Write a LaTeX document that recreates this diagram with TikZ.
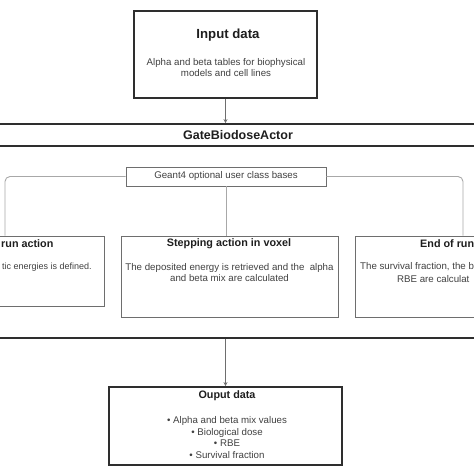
\documentclass[tikz,border=0pt]{standalone}
\usepackage{fontspec}
\setmainfont{Liberation Sans}
\usepackage{tikz}
\usetikzlibrary{shapes.geometric, arrows.meta, positioning}
\definecolor{boxdark}{HTML}{2E2E2E}
\definecolor{boxgray}{HTML}{6E6E6E}
\definecolor{linegray}{HTML}{A8A8A8}
\definecolor{titlecol}{HTML}{1E1E1E}
\definecolor{bodycol}{HTML}{404040}
\tikzstyle{mainbox} = [rectangle, draw=boxdark, line width=1.8pt, inner sep=0pt]
\tikzstyle{subbox} = [rectangle, draw=boxgray, line width=0.9pt, inner sep=0pt]
\tikzstyle{boxtitle} = [font=\bfseries\fontsize{10.8}{12}\selectfont, text=titlecol, inner sep=0pt]
\tikzstyle{boxtext} = [font=\fontsize{9.7}{11.4}\selectfont, text=bodycol, align=center, inner sep=0pt]
\tikzstyle{link} = [draw=linegray, line width=0.9pt, rounded corners=5pt]
\tikzstyle{arrow} = [draw=boxgray, line width=0.7pt, -{Stealth[length=4pt,width=4pt]}]

\begin{document}
\begin{tikzpicture}[x=1pt, y=-1pt]
\useasboundingbox (0,0) rectangle (474,474);
\clip (0,0) rectangle (474,474);
% input
\node (input) [mainbox, minimum width=183pt, minimum height=87pt] at (225.5,54.5) {};
\node (inputtitle) [boxtitle, font=\bfseries\fontsize{13.2}{15}\selectfont] at (228,35) {Input data};
\node (inputtext) [boxtext] at (226,67.5) {Alpha and beta tables for biophysical\\models and cell lines};
% actor
\node (actor) [mainbox, minimum width=540pt, minimum height=214pt] at (237,231) {};
\draw [boxdark, line width=1.5pt] (actor.west |- 0,146) -- (actor.east |- 0,146);
\node (actorname) [boxtitle, font=\bfseries\fontsize{12.5}{14}\selectfont] at (238,135) {GateBiodoseActor};
% class bases
\node (geant) [subbox, minimum width=200pt, minimum height=19pt, fill=white] at (226,176.5) {};
\node (geanttext) [boxtext] at (226,175.5) {Geant4 optional user class bases};
\node (begin) [subbox, minimum width=198pt, minimum height=70pt] at (5,271) {};
\node (stepping) [subbox, minimum width=217pt, minimum height=81pt] at (229.5,276.5) {};
\node (end) [subbox, minimum width=216pt, minimum height=81pt] at (463,276.5) {};
\draw [link] (geant.west) -| (begin.north);
\draw [link] (geant.east) -| (end.north);
\draw [link] (geant.south) -- (geant.south |- stepping.north);
\node (begintitle) [boxtitle, anchor=west] at (1,244) {run action};
\node (begintext) [boxtext, font=\fontsize{9}{11}\selectfont, anchor=west] at (2,267) {tic energies is defined.};
\node (steptitle) [boxtitle] at (229,244) {Stepping action in voxel};
\node (steptext) [boxtext] at (229.5,272.5) {The deposited energy is retrieved and the\ \ alpha\\and beta mix are calculated};
\node (endtitle) [boxtitle, anchor=west] at (420,244) {End of run};
\node (endtext1) [boxtext, anchor=west] at (360,267) {The survival fraction, the b};
\node (endtext2) [boxtext, anchor=west] at (397,279) {RBE are calculat};
% output
\node (output) [mainbox, minimum width=233pt, minimum height=78pt] at (225.5,426) {};
\node (outputtitle) [boxtitle] at (227,395.5) {Ouput data};
\node (outputtext) [boxtext, font=\fontsize{9.7}{11.7}\selectfont] at (227,437.5) {• Alpha and beta mix values\\• Biological dose\\• RBE\\• Survival fraction};
\draw [arrow] (input.south) -- (input.south |- actor.north);
\draw [arrow] (actor.south -| output.north) -- (output.north);
\end{tikzpicture}
\end{document}
